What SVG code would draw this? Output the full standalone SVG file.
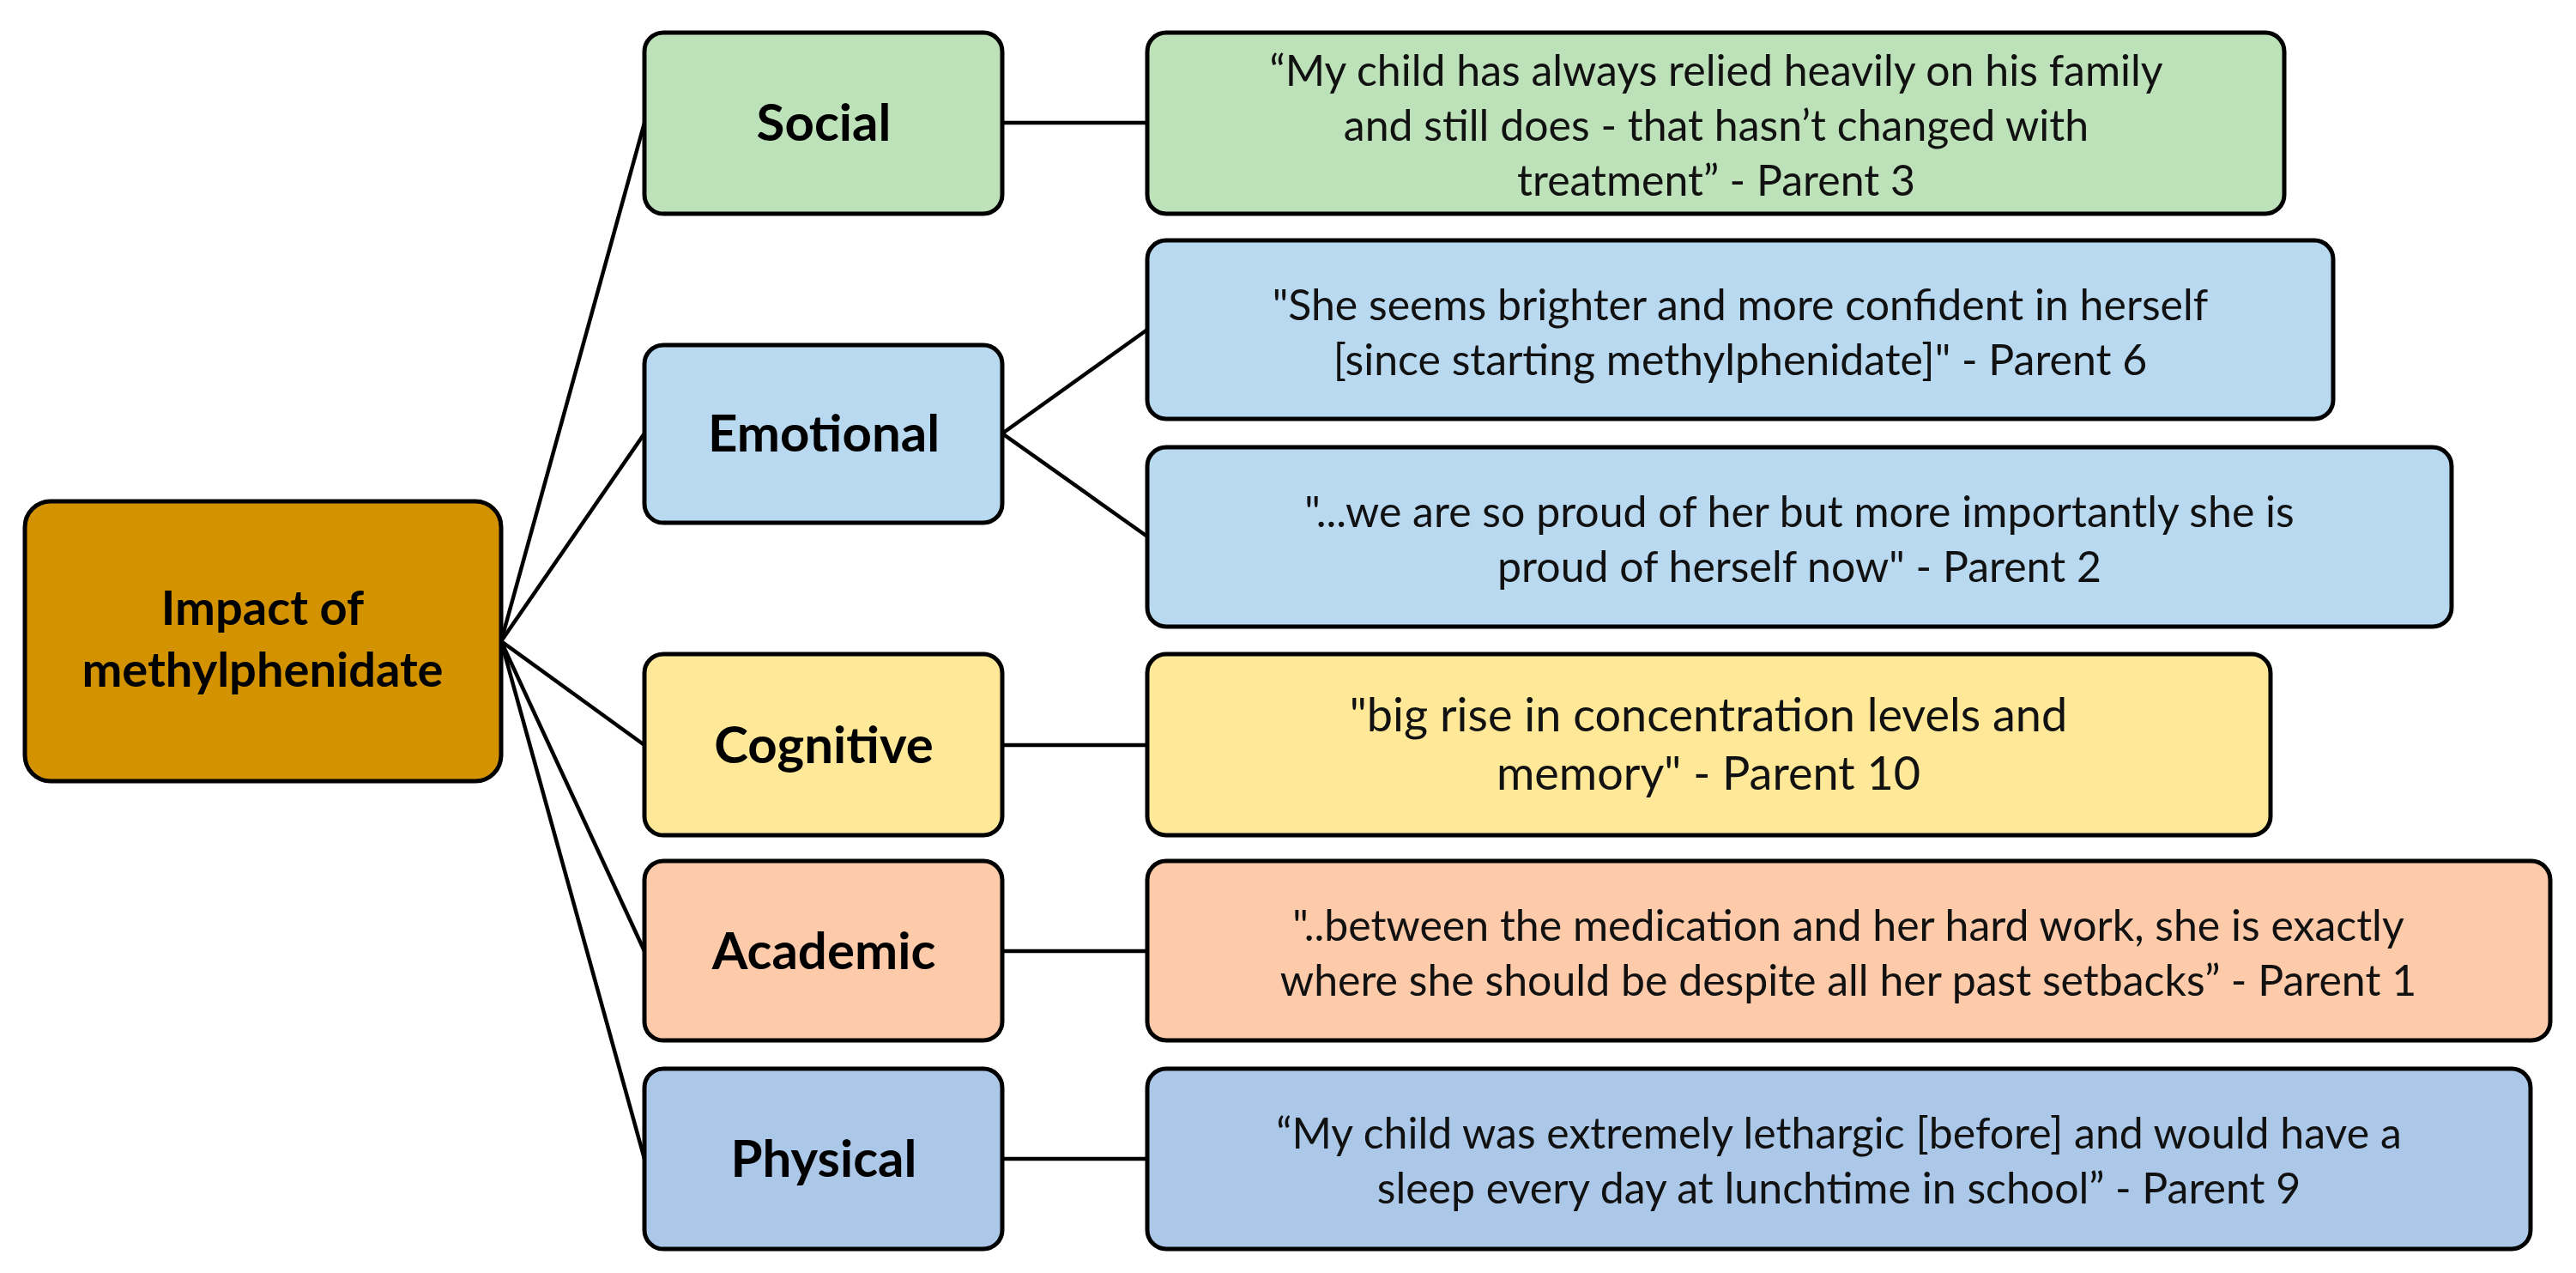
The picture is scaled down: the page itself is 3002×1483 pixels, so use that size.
<svg xmlns="http://www.w3.org/2000/svg" width="3002" height="1483" viewBox="0 0 3002 1483">
<style>
rect{stroke:#000;stroke-width:5}
.c{font-family:Lato,"Liberation Sans",sans-serif;font-weight:bold;font-size:60px;text-anchor:middle;fill:#000}
.q{font-family:Lato,"Liberation Sans",sans-serif;font-size:50px;text-anchor:middle;fill:#111}
#connectors line{stroke:#000;stroke-width:4.5}
</style>
<rect width="3002" height="1483" fill="#fff" style="stroke:none"/>
<g id="connectors">
<line x1="584" y1="747" x2="751" y2="143"/>
<line x1="584" y1="747" x2="751" y2="505"/>
<line x1="584" y1="747" x2="751" y2="868"/>
<line x1="584" y1="747" x2="751" y2="1108"/>
<line x1="584" y1="747" x2="751" y2="1350"/>
<line x1="1168" y1="143" x2="1337" y2="143"/>
<line x1="1168" y1="505" x2="1337" y2="384"/>
<line x1="1168" y1="505" x2="1337" y2="625"/>
<line x1="1168" y1="868" x2="1337" y2="868"/>
<line x1="1168" y1="1108" x2="1337" y2="1108"/>
<line x1="1168" y1="1350" x2="1337" y2="1350"/>
</g>
<g id="main"><rect x="29" y="584" width="555" height="326" rx="30" fill="#D39300"/>
<text class="c" x="306" y="728" style="font-size:56px">Impact of</text><text class="c" x="306" y="800" style="font-size:56px">methylphenidate</text></g>
<g id="social"><rect x="751" y="38" width="417" height="211" rx="22" fill="#BDE2B9"/><text class="c" x="960" y="164">Social</text></g>
<g id="emotional"><rect x="751" y="402" width="417" height="207" rx="22" fill="#B8D9F0"/><text class="c" x="960" y="526">Emotional</text></g>
<g id="cognitive"><rect x="751" y="762" width="417" height="211" rx="22" fill="#FFE999"/><text class="c" x="960" y="889">Cognitive</text></g>
<g id="academic"><rect x="751" y="1003" width="417" height="209" rx="22" fill="#FDCAAA"/><text class="c" x="960" y="1129">Academic</text></g>
<g id="physical"><rect x="751" y="1245" width="417" height="210" rx="22" fill="#ABC8E8"/><text class="c" x="960" y="1371">Physical</text></g>
<g id="q-social"><rect x="1337" y="38" width="1325" height="211" rx="22" fill="#BDE2B9"/>
<text class="q" x="2000" y="100">“My child has always relied heavily on his family</text>
<text class="q" x="2000" y="164">and still does - that hasn’t changed with</text>
<text class="q" x="2000" y="228">treatment” - Parent 3</text></g>
<g id="q-emotional-1"><rect x="1337" y="280" width="1382" height="208" rx="22" fill="#B8D9F0"/>
<text class="q" x="2028" y="373">"She seems brighter and more confident in herself</text>
<text class="q" x="2028" y="437">[since starting methylphenidate]" - Parent 6</text></g>
<g id="q-emotional-2"><rect x="1337" y="521" width="1520" height="209" rx="22" fill="#B8D9F0"/>
<text class="q" x="2097" y="614">"...we are so proud of her but more importantly she is</text>
<text class="q" x="2097" y="678">proud of herself now" - Parent 2</text></g>
<g id="q-cognitive"><rect x="1337" y="762" width="1309" height="211" rx="22" fill="#FFE999"/>
<text class="q" x="1991" y="852" style="font-size:54px">"big rise in concentration levels and</text>
<text class="q" x="1991" y="920" style="font-size:54px">memory" - Parent 10</text></g>
<g id="q-academic"><rect x="1337" y="1003" width="1635" height="209" rx="22" fill="#FDCAAA"/>
<text class="q" x="2154" y="1096">"..between the medication and her hard work, she is exactly</text>
<text class="q" x="2154" y="1160">where she should be despite all her past setbacks” - Parent 1</text></g>
<g id="q-physical"><rect x="1337" y="1245" width="1612" height="210" rx="22" fill="#ABC8E8"/>
<text class="q" x="2143" y="1338">“My child was extremely lethargic [before] and would have a</text>
<text class="q" x="2143" y="1402">sleep every day at lunchtime in school” - Parent 9</text></g>
</svg>
